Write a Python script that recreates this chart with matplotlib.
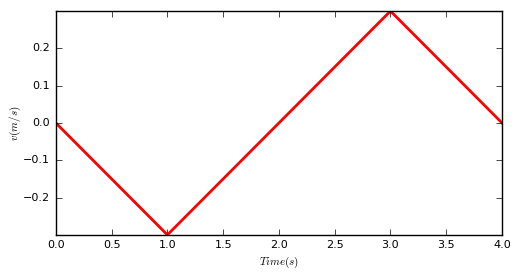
import matplotlib
matplotlib.use('Agg')
import matplotlib.pyplot as plt

# velocity profile (piecewise linear)
time = [0.0, 1.0, 3.0, 4.0]
velocity = [0.0, -0.3, 0.3, 0.0]
xticks = [0.0, 0.5, 1.0, 1.5, 2.0, 2.5, 3.0, 3.5, 4.0]
yticks = [-0.2, -0.1, 0.0, 0.1, 0.2]

plt.style.use('classic')
fig = plt.figure(figsize=(5.17, 2.76), dpi=100, facecolor='white')
ax = fig.add_axes([0.108, 0.149, 0.863, 0.811])

ax.plot(time, velocity, color='red', linewidth=2)
ax.set_xlim(0, 4)
ax.set_ylim(-0.3, 0.3)
ax.set_xticks(xticks)
ax.set_yticks(yticks)
ax.tick_params(labelsize=8, length=4)
ax.set_xlabel('$Time(s)$', fontsize=8, labelpad=3)
ax.set_ylabel('$v(m/s)$', fontsize=8, labelpad=0)

fig.savefig('out.png', dpi=100, facecolor='white')
